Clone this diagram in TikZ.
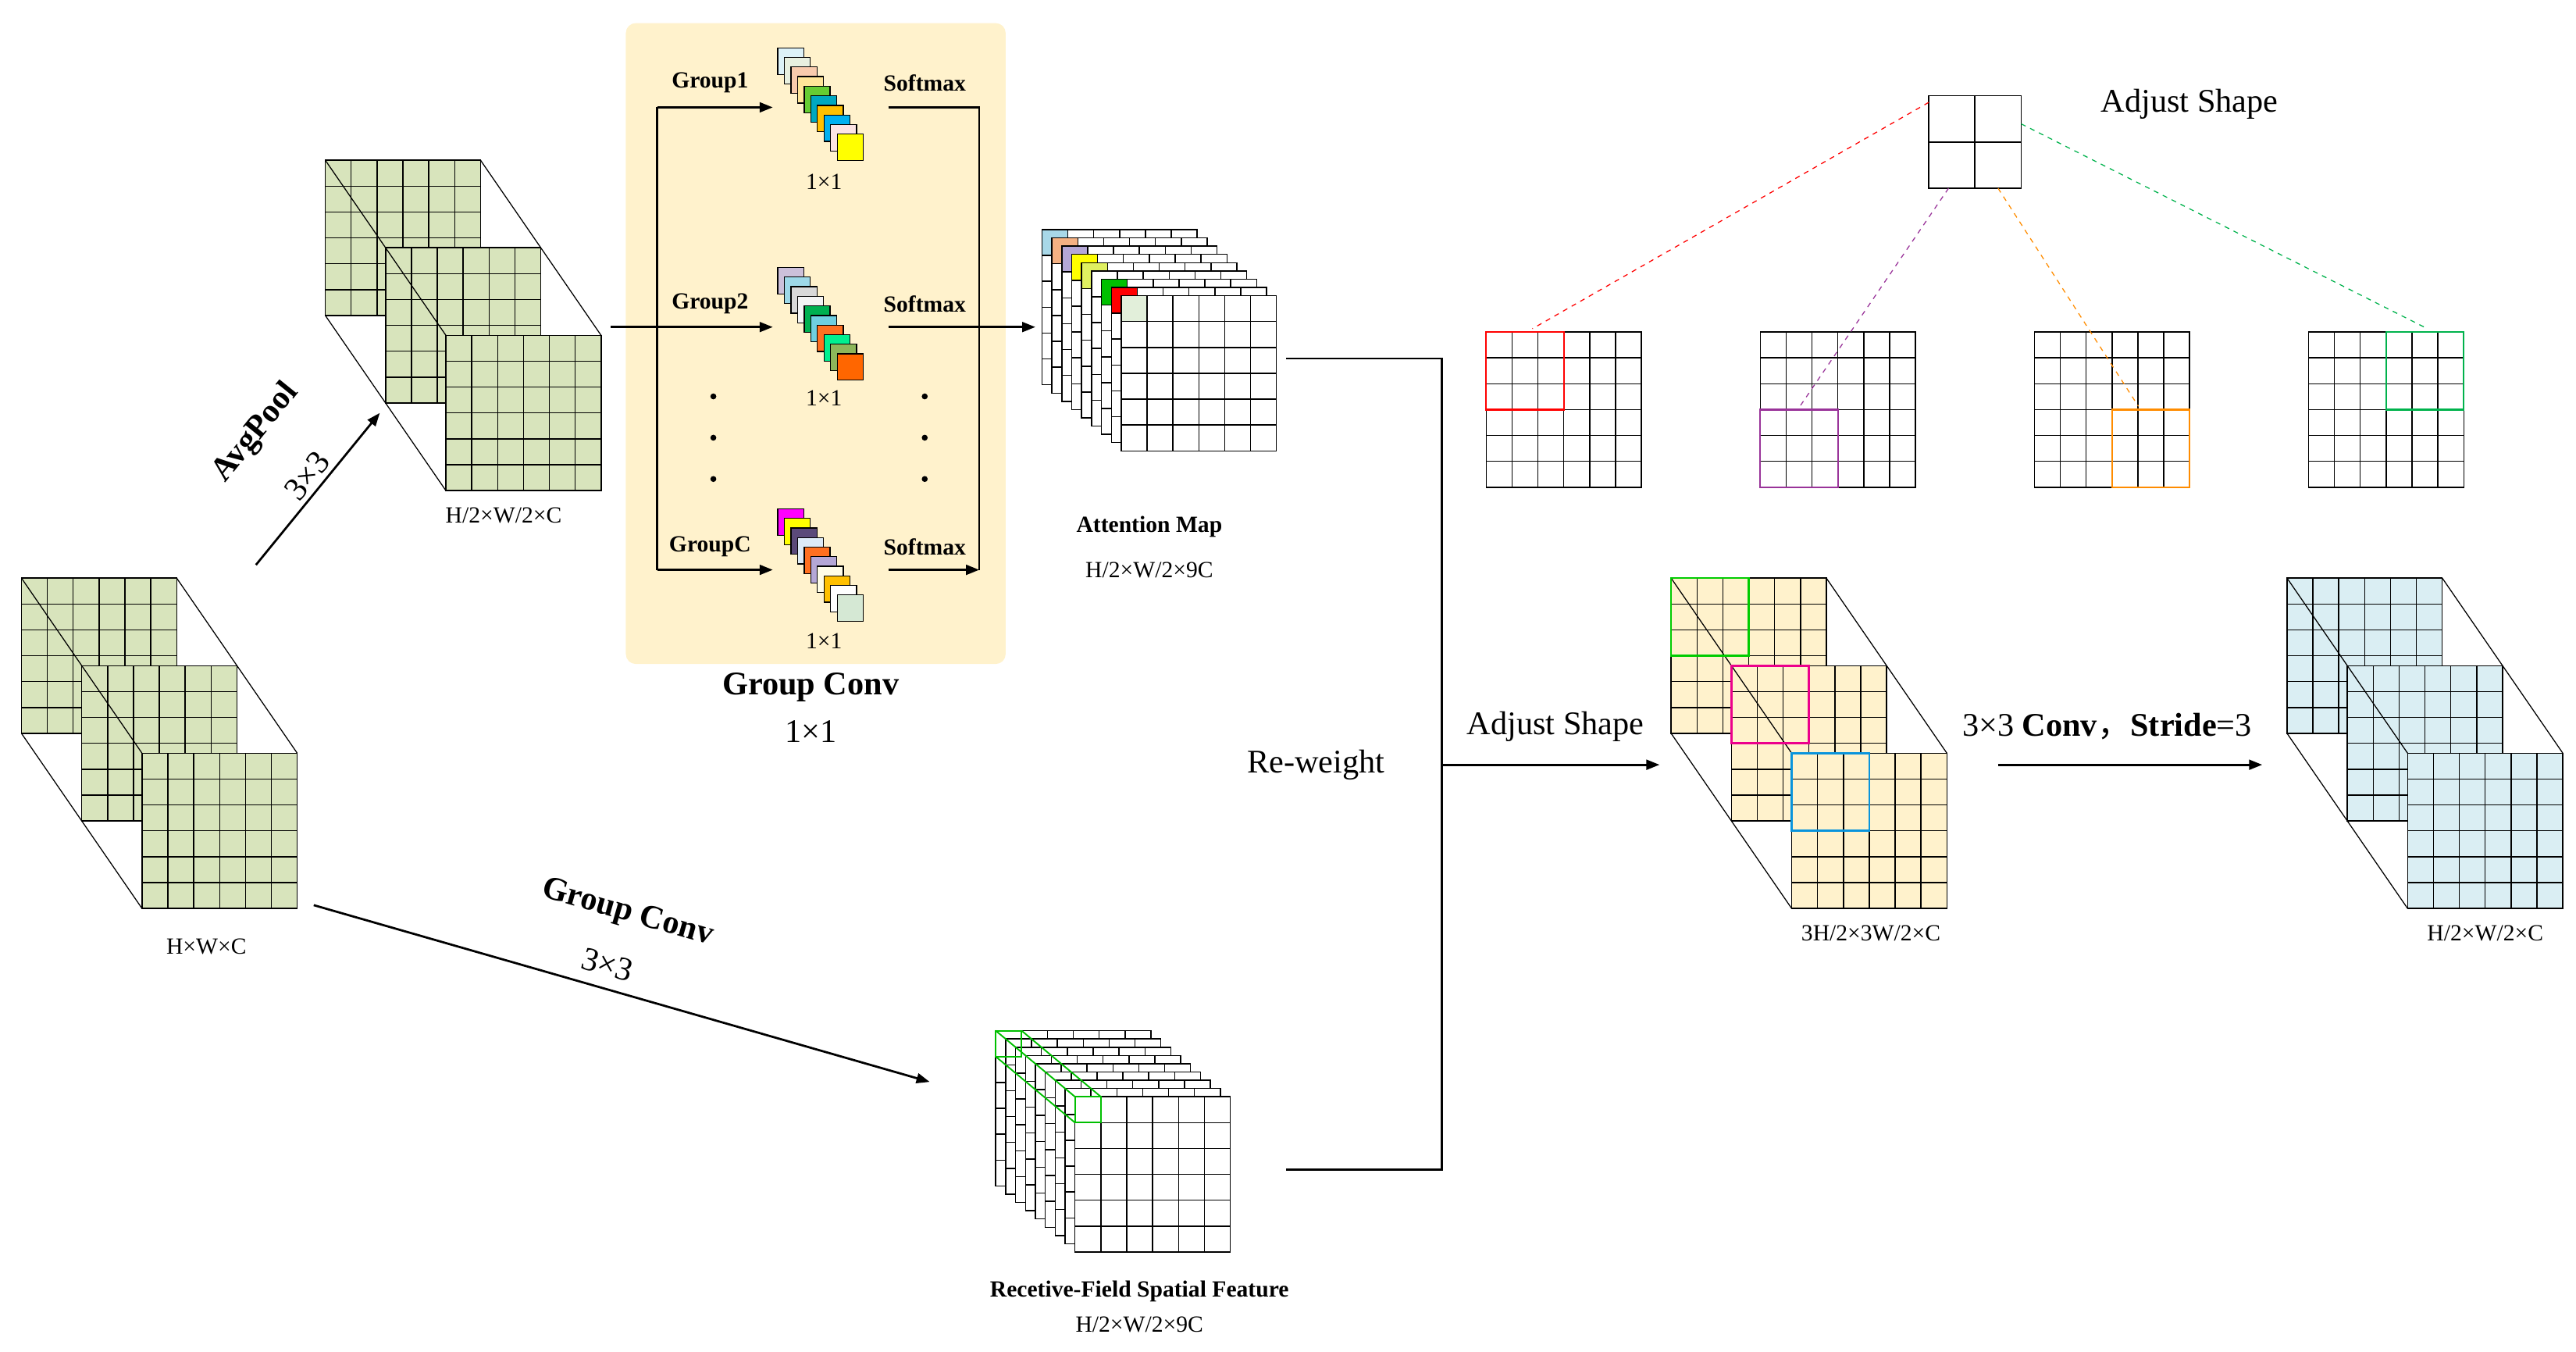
\documentclass[tikz,border=0pt]{standalone}
\usepackage{fontspec}
\setmainfont{Liberation Serif}
\newfontfamily\cjk{Noto Sans CJK SC}
\usetikzlibrary{arrows.meta}
\definecolor{fgreen}{HTML}{D8E4BC}
\definecolor{fyellow}{HTML}{FFF2CC}
\definecolor{fblue}{HTML}{DAEEF3}
\definecolor{panel}{HTML}{FFF2CC}
\newcommand\fmap[3]{%
  \filldraw[fill=#3,draw=black,line width=0.7pt] (#1,#2) rectangle ++(94,94);
  \foreach \i in {1,...,5}{
    \draw[line width=0.7pt] (#1+\i*15.667,#2) -- ++(0,94);
    \draw[line width=0.7pt] (#1,#2+\i*15.667) -- ++(94,0);
  }}
% three maps stacked with outline lines
\newcommand\fstack[3]{%
  \fmap{#1}{#2}{#3}
  \fmap{#1+36.5}{#2+53}{#3}
  \fmap{#1+73}{#2+106}{#3}
  \draw[line width=0.6pt] (#1,#2) -- ++(73,106);
  \draw[line width=0.6pt] (#1+94,#2) -- ++(73,106);
  \draw[line width=0.6pt] (#1,#2+94) -- ++(73,106);}
\begin{document}
\begin{tikzpicture}[x=1pt,y=-1pt,
  arr/.style={line width=1.3pt,-{Triangle[length=8pt,width=6pt]}},
  ln/.style={line width=1.3pt},
  lab/.style={font=\fontsize{14}{16}\selectfont,inner sep=0pt},
  blab/.style={font=\fontsize{14}{16}\selectfont\bfseries,inner sep=0pt},
  big/.style={font=\fontsize{20}{22}\selectfont,inner sep=0pt},
  bigb/.style={font=\fontsize{20}{22}\selectfont\bfseries,inner sep=0pt},
  sq/.style={draw=black,line width=0.6pt}]
\useasboundingbox (0,0) rectangle (1560,818.5);

% panel
\fill[panel,rounded corners=6pt] (379,14) rectangle (609,402);

% input and avgpool stacks
\fstack{13}{350}{fgreen}
\node[lab] (lin) at (125,573) {H×W×C};
\fstack{197}{97}{fgreen}
\node[lab] (lpool) at (305,312) {H/2×W/2×C};

\coordinate (p1) at (155,342); \coordinate (p2) at (230,250);
\draw[arr] (p1) -- (p2);
\node[bigb,rotate=51] (avg) at (155,262) {AvgPool};
\node[big,rotate=51] (avgk) at (186,288) {3×3};

% group conv branches
\coordinate (gin) at (370,198);
\coordinate (gv1) at (398,65); \coordinate (gv2) at (398,345);
\coordinate (g1) at (468,65); \coordinate (g2) at (468,198); \coordinate (g3) at (468,345);
\draw[ln] (gv1) -- (gv2);
\draw[arr] (gv1) -- (g1);
\draw[arr] (gin) -- (g2);
\draw[arr] (gv2) -- (g3);
\node[blab] (t1) at (430,50) {Group1};
\node[blab] (t2) at (430,184) {Group2};
\node[blab] (t3) at (430,331) {GroupC};

\foreach \c [count=\k from 0] in {DDF2F8,E8F0E0,F8CBAD,FFE699,66CC33,00A8C0,FFC000,00B0F0,FCE4E4,FFFF00}
  {\definecolor{tmp}{HTML}{\c}\filldraw[sq,fill=tmp] (471+4*\k,29+5.8*\k) rectangle ++(15.7,16);}
\foreach \c [count=\k from 0] in {CCC0DA,9DD8E8,D9D9D9,F4F4F4,00B050,6FCFE0,FF7020,00F090,8DB65A,FF6600}
  {\definecolor{tmp}{HTML}{\c}\filldraw[sq,fill=tmp] (471+4*\k,162+5.8*\k) rectangle ++(15.7,16);}
\foreach \c [count=\k from 0] in {FF00FF,FFFF00,5B4A7A,DDEBF7,FF7020,B4A7D6,FFFDE7,FFC000,FFFFFF,D5E8D4}
  {\definecolor{tmp}{HTML}{\c}\filldraw[sq,fill=tmp] (471+4*\k,308+5.8*\k) rectangle ++(15.7,16);}
\node[lab] (k1) at (499,110) {1×1};
\node[lab] (k2) at (499,241) {1×1};
\node[lab] (k3) at (499,388) {1×1};

\node[blab] (s1) at (560,50) {Softmax};
\node[blab] (s2) at (560,184) {Softmax};
\node[blab] (s3) at (560,331) {Softmax};
\coordinate (o1) at (538,65); \coordinate (o2) at (538,198); \coordinate (o3) at (538,345);
\coordinate (ov1) at (593,65); \coordinate (ov3) at (593,345);
\draw[ln] (o1) -- (ov1) -- (ov3);
\draw[arr] (o3) -- (ov3);
\coordinate (att) at (627,198);
\draw[arr] (o2) -- (att);
\foreach \y in {240,265,290}{\fill (432,\y) circle (1.8); \fill (560,\y) circle (1.8);}
\node[bigb] (gc) at (491,416) {Group Conv};
\node[big] (gck) at (491,443) {1×1};

% attention map
\foreach \c [count=\k from 0] in {A8D8E8,F4B183,B4A7D6,FFFF00,E0F060,FFFFFF,00C000,FF0000,E2EFDA}
  {\definecolor{tmp}{HTML}{\c}
   \fmap{631+6*\k}{139+5*\k}{white}
   \filldraw[fill=tmp,line width=0.7pt] (631+6*\k,139+5*\k) rectangle ++(15.667,15.667);}
\node[blab] (attl) at (696,319) {Attention Map};
\node[lab] (attd) at (696,345) {H/2×W/2×9C};

% receptive-field features
\foreach \k in {0,...,8}{\fmap{603+6*\k}{624+5*\k}{white}}
\begin{scope}[green!75!black,line width=0.9pt]
  \draw (603,624) rectangle ++(15.667,15.667);
  \draw (651,664) rectangle ++(15.667,15.667);
  \draw (603,624) -- (651,664);
  \draw (618.667,624) -- (666.667,664);
  \draw (603,639.667) -- (651,679.667);
\end{scope}
\node[blab] (rfl) at (690,782) {Recetive-Field Spatial Feature};
\node[lab] (rfd) at (690,802) {H/2×W/2×9C};

\coordinate (c1) at (190,548); \coordinate (c2) at (563,655);
\draw[arr] (c1) -- (c2);
\node[bigb,rotate=-16] (gc3) at (380,553) {Group Conv};
\node[big,rotate=-16] (gc3k) at (368,584) {3×3};

% re-weight
\coordinate (a1) at (779,217); \coordinate (a2) at (779,708);
\coordinate (j1) at (873,217); \coordinate (j2) at (873,708); \coordinate (jm) at (873,463);
\coordinate (yin) at (1005,463);
\draw[ln] (a1) -- (j1) -- (j2) -- (a2);
\draw[arr] (jm) -- (yin);
\node[big] (rw) at (797,463) {Re-weight};
\node[big] (as1) at (942,440) {Adjust Shape};

% adjust shape detail
\draw[line width=0.8pt] (1168,58) rectangle (1224,114);
\draw[line width=0.8pt] (1196,58) -- (1196,114) (1168,86) -- (1224,86);
\node[big] (as2) at (1326,63) {Adjust Shape};
\foreach \x in {900,1066,1232,1398}{\fmap{\x}{201}{white}}
\draw[red,line width=1pt] (900,201) rectangle ++(47,47);
\draw[violet!80!white,line width=1pt] (1066,248) rectangle ++(47,47);
\draw[orange!90!yellow,line width=1pt] (1279,248) rectangle ++(47,47);
\draw[teal!60!green,line width=1pt] (1445,201) rectangle ++(47,47);
\draw[red,dashed,line width=0.6pt] (1168,62) -- (928,199);
\draw[violet!80!white,dashed,line width=0.6pt] (1180,114) -- (1090,246);
\draw[orange!90!yellow,dashed,line width=0.6pt] (1210,114) -- (1295,246);
\draw[teal!60!green,dashed,line width=0.6pt] (1224,75) -- (1470,199);

% reshaped features
\fstack{1012}{350}{fyellow}
\draw[green!80!black,line width=1.2pt] (1012,350) rectangle ++(47,47);
\draw[magenta,line width=1.2pt] (1048.5,403) rectangle ++(47,47);
\draw[cyan!80!blue,line width=1.2pt] (1085,456) rectangle ++(47,47);
\node[lab] (ld) at (1133,565) {3H/2×3W/2×C};

\coordinate (b1) at (1210,463); \coordinate (b2) at (1370,463);
\draw[arr] (b1) -- (b2);
\node[big] (cv) at (1276,440) {3×3 \textbf{Conv}{\cjk ，}\textbf{Stride}=3};

\fstack{1385}{350}{fblue}
\node[lab] (lout) at (1505,565) {H/2×W/2×C};
\end{tikzpicture}
\end{document}
